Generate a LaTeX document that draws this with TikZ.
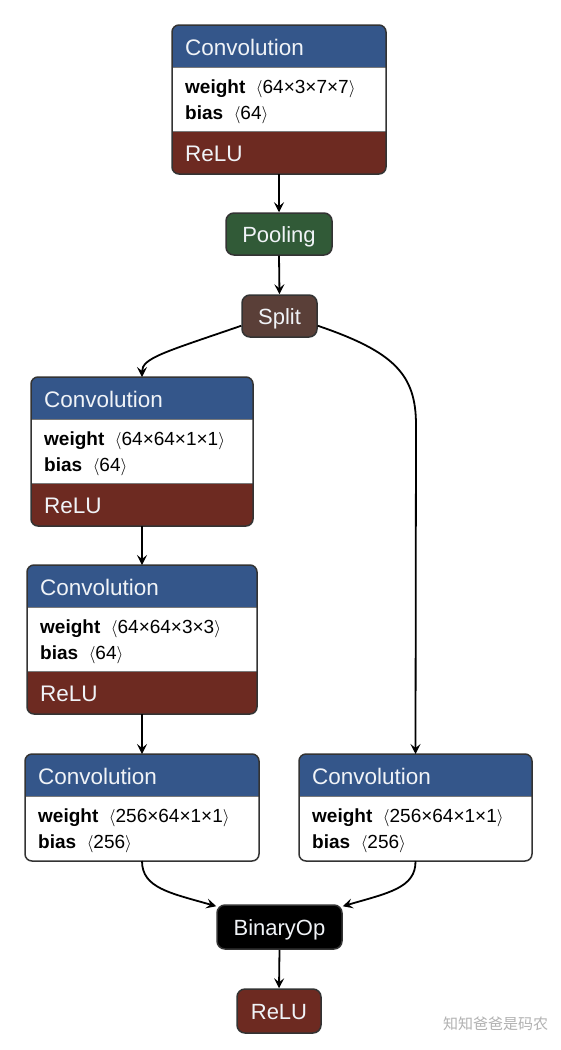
\documentclass[tikz,border=0pt]{standalone}
\usepackage{fontspec}
\setmainfont{Liberation Sans}
\newfontfamily\cjkfont{Noto Sans CJK SC}
\usetikzlibrary{arrows.meta}
\definecolor{convblue}{HTML}{34568A}
\definecolor{relured}{HTML}{6D2A21}
\definecolor{poolgreen}{HTML}{315A37}
\definecolor{splitbrown}{HTML}{5A3F38}
\definecolor{framegray}{HTML}{333333}
\definecolor{divgray}{HTML}{7A7A7A}
\definecolor{lighttxt}{HTML}{F0F3F7}
\tikzset{
  blockframe/.style={draw=framegray, line width=1.5pt, rounded corners=7pt, inner sep=0pt, outer sep=0pt},
  divider/.style={draw=divgray, line width=1pt},
  headtxt/.style={anchor=base west, inner sep=0pt, text=lighttxt, font=\fontsize{22.5}{25}\selectfont},
  bodytxt/.style={anchor=base west, inner sep=0pt, text=black, font=\fontsize{19}{21}\selectfont},
  smallbox/.style={draw=framegray, line width=1.5pt, rounded corners=8pt, inner sep=0pt, text=lighttxt,
    text height=16pt, text depth=0pt, font=\fontsize{22}{25}\selectfont},
  conn/.style={line width=1.8pt, -{Stealth[length=10pt,width=10pt,inset=4pt]}},
}
% #1 name, #2 left, #3 right, #4 top, #5 weight, #6 bias, #7 total height (149 with ReLU, 107 without)
\newcommand\convbox[7]{%
  \pgfmathsetmacro\cbw{#3-#2}%
  \pgfmathsetmacro\cbcx{(#2+#3)/2}%
  \pgfmathsetmacro\cbcy{#4+#7/2}%
  \begin{scope}
    \clip[rounded corners=7pt] (#2,#4) rectangle (#3,{#4+#7});
    \fill[convblue] (#2,#4) rectangle (#3,{#4+42.5});
    \fill[white] (#2,{#4+42.5}) rectangle (#3,{#4+106.5});
    \ifdim#7pt>120pt
      \fill[relured] (#2,{#4+106.5}) rectangle (#3,{#4+#7});
      \draw[divider] (#2,{#4+106.5}) -- (#3,{#4+106.5});
    \fi
    \draw[divider] (#2,{#4+42.5}) -- (#3,{#4+42.5});
  \end{scope}
  \node[blockframe, minimum width=\cbw pt, minimum height=#7pt] (#1) at (\cbcx,\cbcy) {};
  \node[headtxt] (#1-h) at ({#2+13},{#4+30}) {Convolution};
  \node[bodytxt] (#1-w) at ({#2+13},{#4+68}) {\textbf{weight}\; $\langle$#5$\rangle$};
  \node[bodytxt] (#1-b) at ({#2+13},{#4+94}) {\textbf{bias}\; $\langle$#6$\rangle$};
  \ifdim#7pt>120pt
    \node[headtxt] (#1-r) at ({#2+13},{#4+136}) {ReLU};
  \fi
}
\begin{document}
\begin{tikzpicture}[x=1pt,y=-1pt]
\useasboundingbox (0,0) rectangle (560,1050);
\fill[white] (0,0) rectangle (560,1050);

\convbox{c1}{172}{386}{25}{64×3×7×7}{64}{149}
\node[smallbox, fill=poolgreen, minimum width=106pt, minimum height=42pt] (pool) at (279,234) {Pooling};
\node[smallbox, fill=splitbrown, minimum width=75pt, minimum height=42pt] (split) at (279.5,316) {Split};

\convbox{c2}{31}{253}{377}{64×64×1×1}{64}{149}
\convbox{c3}{27}{257}{565}{64×64×3×3}{64}{149}
\convbox{c4}{25}{259}{754}{256×64×1×1}{256}{107}
\convbox{c5}{299}{532}{754}{256×64×1×1}{256}{107}

\node[smallbox, fill=black, minimum width=125pt, minimum height=44pt] (binop) at (279.5,927) {BinaryOp};
\node[smallbox, fill=relured, minimum width=84pt, minimum height=44pt] (relu) at (279,1011) {ReLU};

\node[anchor=west, inner sep=0pt, text=black!30, font=\cjkfont\fontsize{15}{17}\selectfont] (wm) at (443,1024) {知知爸爸是码农};

\draw[conn] (c1.south) -- (pool.north);
\draw[conn] (pool.south) -- (split.north);
\draw[conn] ([yshift=12pt]split.south west) .. controls (165,352) and (142,358) .. (c2.north);
\draw[conn] ([yshift=12pt]split.south east) .. controls (395,352) and (416,375) .. (416,425) -- (c5.north);
\draw[conn] (c2.south) -- (c3.north);
\draw[conn] (c3.south) -- (c4.north);
\draw[conn] (c4.south) .. controls (142,888) and (170,893) .. ([yshift=-2pt]binop.north west);
\draw[conn] (c5.south) .. controls (416,888) and (388,893) .. ([yshift=-2pt]binop.north east);
\draw[conn] (binop.south) -- (relu.north);
\end{tikzpicture}
\end{document}
